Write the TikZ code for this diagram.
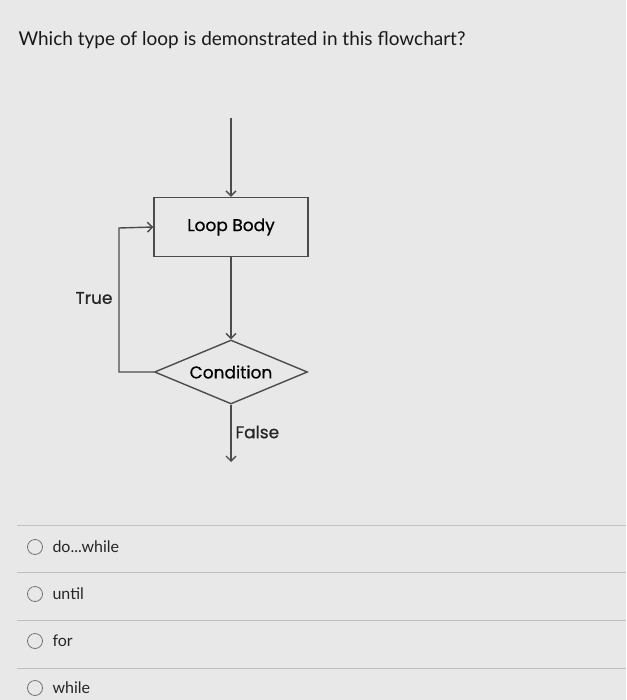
\documentclass[tikz,border=0pt]{standalone}
\usepackage{fontspec}
\setmainfont{Lato}
\newfontfamily\chartfont[FakeBold=0.6]{Poppins}
\usetikzlibrary{shapes.geometric,arrows.meta}
\begin{document}
\begin{tikzpicture}[x=1pt,y=-1pt,
  flow/.style={draw=black!70,line width=1.4pt},
  arr/.style={flow,-{Straight Barb[length=5pt,width=10pt]}},
  boxnode/.style={flow,minimum width=154pt,minimum height=59pt,font=\chartfont\fontsize{17}{20}\selectfont},
  dia/.style={flow,diamond,aspect=2.4,minimum width=153pt,minimum height=64pt,inner sep=0pt,font=\chartfont\fontsize{17}{20}\selectfont},
  lbl/.style={font=\chartfont\fontsize{17}{20}\selectfont,text=black!85},
  sep/.style={draw=black!25,line width=0.8pt},
  radio/.style={circle,draw=black!55,line width=0.8pt,minimum size=15pt,inner sep=0pt},
  opt/.style={anchor=west,font=\fontsize{16}{19}\selectfont,text=black!85}]
\fill[gray!18] (0,0) rectangle (626,700);
\useasboundingbox (0,0) rectangle (626,700);
\node[anchor=west,font=\fontsize{19}{23}\selectfont,text=black!90] (title) at (15,40) {Which type of loop is demonstrated in this flowchart?};
\coordinate (start) at (231,118);
\node[boxnode] (body) at (231,227) {Loop Body};
\node[dia] (cond) at (231,372) {Condition};
\coordinate (end) at (231,462);
\coordinate (c1) at (119,372);
\coordinate (c2) at (119,228);
\draw[arr] (start) -- (body.north);
\draw[arr] (body.south) -- (cond.north);
\draw[arr] (cond.south) -- (end);
\draw[arr] (cond.west) -- (c1) -- (c2) -- (body.west);
\node[lbl,anchor=east] (t) at (116,298) {True};
\node[lbl,anchor=west] (f) at (232,432) {False};
\draw[sep] (17,525) -- (626,525);
\draw[sep] (17,572) -- (626,572);
\draw[sep] (17,620) -- (626,620);
\draw[sep] (17,668) -- (626,668);
\node[radio] (r1) at (35,547) {};
\node[opt] (r1t) at (49,547) {do...while};
\node[radio] (r2) at (35,594) {};
\node[opt] (r2t) at (49,594) {until};
\node[radio] (r3) at (35,641) {};
\node[opt] (r3t) at (49,641) {for};
\node[radio] (r4) at (35,688) {};
\node[opt] (r4t) at (49,688) {while};
\end{tikzpicture}
\end{document}
